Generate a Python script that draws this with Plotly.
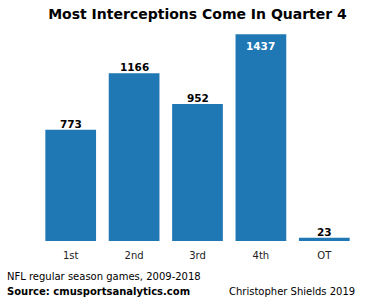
import plotly.graph_objects as go

quarters = ["1st", "2nd", "3rd", "4th", "OT"]
interceptions = [773, 1166, 952, 1437, 23]

BLUE = "#1f77b4"
FONT = "DejaVu Sans"

fig = go.Figure(go.Bar(
    x=list(range(len(quarters))), y=interceptions,
    marker=dict(color=BLUE, line=dict(width=0)), width=0.8,
    hoverinfo="skip",
))

max_v = max(interceptions)
annotations = []
for i, v in enumerate(interceptions):
    if v == max_v:
        annotations.append(dict(x=i, y=v, xref="x", yref="y", text=f"<b>{v}</b>",
                                showarrow=False, yanchor="top", yshift=-4,
                                font=dict(family=FONT, size=10.5, color="white")))
    else:
        annotations.append(dict(x=i, y=v, xref="x", yref="y", text=f"<b>{v}</b>",
                                showarrow=False, yanchor="bottom", yshift=-2,
                                font=dict(family=FONT, size=10.5, color="black")))

annotations += [
    dict(x=5, y=276, xref="paper", yref="paper", text="NFL regular season games, 2009-2018",
         showarrow=False, xanchor="left", yanchor="middle", font=dict(family=FONT, size=10, color="black")),
    dict(x=5, y=291, xref="paper", yref="paper", text="<b>Source: cmusportsanalytics.com</b>",
         showarrow=False, xanchor="left", yanchor="middle", font=dict(family=FONT, size=10, color="black")),
    dict(x=357, y=291, xref="paper", yref="paper", text="Christopher Shields 2019",
         showarrow=False, xanchor="right", yanchor="middle", font=dict(family=FONT, size=10, color="black")),
]

W, H = 372, 303
L, R, T, B = 39, 16, 24, 62
pw, ph = W - L - R, H - T - B
for a in annotations:
    if a["xref"] == "paper":
        a["x"] = (a["x"] - L) / pw
        a["y"] = (H - B - a["y"]) / ph

fig.update_layout(
    width=W, height=H,
    margin=dict(l=L, r=R, t=T, b=B, pad=0),
    paper_bgcolor="white", plot_bgcolor="white",
    showlegend=False,
    title=dict(text="<b>Most Interceptions Come In Quarter 4</b>", x=(L + pw / 2) / W,
               xanchor="center", y=1 - 14 / H, yanchor="middle",
               font=dict(family=FONT, size=14, color="black")),
    xaxis=dict(range=[-0.5, 4.5], tickvals=list(range(len(quarters))), ticktext=quarters,
               showgrid=False, zeroline=False, showline=False,
               ticks="outside", ticklen=5, tickcolor="rgba(0,0,0,0)",
               tickfont=dict(family=FONT, size=10, color="#222"), fixedrange=True),
    yaxis=dict(range=[0, max_v * 1.05], visible=False, showgrid=False, zeroline=False, fixedrange=True),
    annotations=annotations,
)

fig.write_html("out.html", config={"displayModeBar": False})
